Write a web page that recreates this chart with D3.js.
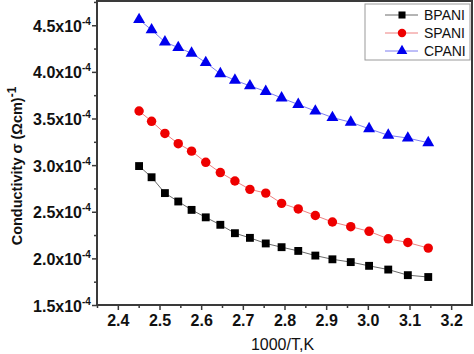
<!DOCTYPE html>
<html>
<head>
<meta charset="utf-8">
<script src="https://cdn.jsdelivr.net/npm/d3@7"></script>
<style>
  body { margin: 0; background: #fff; }
  text { font-family: "Liberation Sans", Arial, sans-serif; }
</style>
</head>
<body>
<div id="chart"></div>
<script>
// Data (x = 1000/T, y in units of 1e-4 S/cm)
const invT = [2.451, 2.481, 2.513, 2.545, 2.577, 2.611, 2.646, 2.681, 2.717, 2.755,
              2.793, 2.833, 2.874, 2.915, 2.959, 3.003, 3.049, 3.096, 3.145];
const bpani = [2.99, 2.87, 2.70, 2.61, 2.52, 2.44, 2.36, 2.27, 2.22, 2.16,
               2.12, 2.08, 2.03, 1.99, 1.96, 1.92, 1.88, 1.82, 1.80];
const spani = [3.58, 3.47, 3.34, 3.23, 3.15, 3.03, 2.92, 2.83, 2.74, 2.70,
               2.59, 2.53, 2.46, 2.39, 2.34, 2.29, 2.21, 2.17, 2.11];
const cpani = [4.56, 4.45, 4.32, 4.26, 4.20, 4.10, 3.98, 3.91, 3.85, 3.79,
               3.72, 3.65, 3.58, 3.51, 3.46, 3.39, 3.32, 3.29, 3.24];
const seriesNames = ["BPANI", "SPANI", "CPANI"];
const xTicks = [2.4, 2.5, 2.6, 2.7, 2.8, 2.9, 3.0, 3.1, 3.2];
const yTicks = [1.5, 2.0, 2.5, 3.0, 3.5, 4.0, 4.5];

const margin = {top: 1, right: 2, bottom: 49, left: 97},
      width = 474 - margin.left - margin.right,
      height = 354 - margin.top - margin.bottom;

const svg = d3.select("#chart")
  .append("svg")
    .attr("width", 474)
    .attr("height", 354)
  .append("g")
    .attr("transform", `translate(${margin.left},${margin.top})`);

const x = d3.scaleLinear().domain([2.35, 3.25]).range([0, width]);
const y = d3.scaleLinear().domain([1.5, 4.76]).range([height, 0]);

const axisColor = "#3a3a3a";

// minor ticks
const xMinor = xTicks.map(d => d + 0.05).filter(d => d < 3.25);
xMinor.unshift(2.35);
svg.append("g")
  .attr("transform", `translate(0,${height})`)
  .call(d3.axisBottom(x).tickValues(xMinor).tickSize(3).tickFormat(""))
  .call(g => g.select(".domain").remove())
  .selectAll("line").attr("stroke", axisColor).attr("stroke-width", 1.5);

const yMinor = yTicks.map(d => d + 0.25).filter(d => d < 4.76);
svg.append("g")
  .call(d3.axisLeft(y).tickValues(yMinor).tickSize(3).tickFormat(""))
  .call(g => g.select(".domain").remove())
  .selectAll("line").attr("stroke", axisColor).attr("stroke-width", 1.5);

// X axis
const xAxis = svg.append("g")
  .attr("transform", `translate(0,${height})`)
  .call(d3.axisBottom(x).tickValues(xTicks).tickSize(5).tickPadding(5).tickFormat(d3.format(".1f")));
xAxis.select(".domain").remove();
xAxis.selectAll("line").attr("stroke", axisColor).attr("stroke-width", 1.5);
xAxis.selectAll("text")
  .attr("fill", "#111")
  .style("font-size", "16px")
  .style("font-weight", "bold")
  .style("font-family", "'Liberation Sans', Arial, sans-serif");

// Y axis
const yAxis = svg.append("g")
  .call(d3.axisLeft(y).tickValues(yTicks).tickSize(5).tickFormat(""));
yAxis.select(".domain").remove();
yAxis.selectAll("line").attr("stroke", axisColor).attr("stroke-width", 1.5);
yAxis.selectAll(".tick").append("text")
  .attr("x", -15)
  .attr("dy", "0.38em")
  .attr("text-anchor", "end")
  .attr("fill", "#111")
  .style("font-size", "16px")
  .style("font-weight", "bold")
  .text(d => d.toFixed(1) + "x10");
yAxis.selectAll(".tick").append("text")
  .attr("x", -15)
  .attr("y", -1)
  .attr("text-anchor", "start")
  .attr("fill", "#111")
  .style("font-size", "10px")
  .style("font-weight", "bold")
  .text("-4");

// Frame
svg.append("rect")
  .attr("x", 0).attr("y", 0)
  .attr("width", width).attr("height", height)
  .attr("fill", "none")
  .attr("stroke", axisColor)
  .attr("stroke-width", 2);

// Series
const series = [
  {name: seriesNames[0], values: bpani, color: "#000000", line: "#6a6a6a", shape: d3.symbolSquare, size: 62},
  {name: seriesNames[1], values: spani, color: "#ee0000", line: "#ee8080", shape: d3.symbolCircle, size: 70},
  {name: seriesNames[2], values: cpani, color: "#0000ee", line: "#7d7df0", shape: d3.symbolTriangle, size: 62}
];

const line = d3.line()
  .x(d => x(d[0]))
  .y(d => y(d[1]));

series.forEach(s => {
  const pts = invT.map((v, i) => [v, s.values[i]]);
  svg.append("path")
    .datum(pts)
    .attr("fill", "none")
    .attr("stroke", s.line)
    .attr("stroke-width", 1)
    .attr("d", line);
  svg.selectAll(null)
    .data(pts)
    .join("path")
      .attr("transform", d => `translate(${x(d[0])},${y(d[1])})`)
      .attr("d", d3.symbol().type(s.shape).size(s.size))
      .attr("fill", s.color);
});

// Legend
const legend = svg.append("g").attr("transform", `translate(${365 - margin.left},${4 - margin.top})`);
legend.append("rect")
  .attr("width", 105).attr("height", 56)
  .attr("fill", "#fff")
  .attr("stroke", "#9a9a9a")
  .attr("stroke-width", 1);
series.forEach((s, i) => {
  const ly = 11 + i * 18;
  legend.append("line")
    .attr("x1", 20).attr("x2", 53)
    .attr("y1", ly).attr("y2", ly)
    .attr("stroke", s.line).attr("stroke-width", 1);
  legend.append("path")
    .attr("transform", `translate(37,${ly})`)
    .attr("d", d3.symbol().type(s.shape).size(s.size * 0.8))
    .attr("fill", s.color);
  legend.append("text")
    .attr("x", 59).attr("y", ly)
    .attr("dy", "0.36em")
    .attr("fill", "#111")
    .style("font-size", "14px")
    .text(s.name);
});

// Axis titles
svg.append("text")
  .attr("x", width / 2 - 2)
  .attr("y", height + 45)
  .attr("text-anchor", "middle")
  .attr("fill", "#111")
  .style("font-size", "16px")
  .text("1000/T,K");

const yl = svg.append("text")
  .attr("transform", `translate(${-margin.left + 22},${165}) rotate(-90)`)
  .attr("text-anchor", "middle")
  .attr("fill", "#111")
  .style("font-size", "14.5px")
  .style("font-weight", "bold");
yl.append("tspan").text("Conductivity σ (Ωcm)");
yl.append("tspan").attr("dy", -6).style("font-size", "12px").text("-1");
</script>
</body>
</html>
